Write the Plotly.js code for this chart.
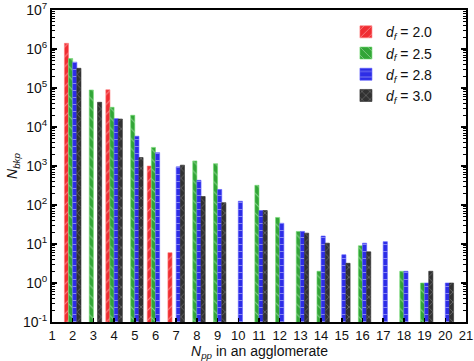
<!DOCTYPE html>
<html>
<head>
<meta charset="utf-8">
<script src="https://cdn.plot.ly/plotly-3.0.1.min.js"></script>
<style>html,body{margin:0;padding:0;background:#fff;}#chart{width:474px;height:361px;}</style>
</head>
<body>
<div id="chart"></div>
<script>
const npp = [2,3,4,5,6,7,8,9,10,11,12,13,14,15,16,17,18,19,20];
const df20 = [1.4e6,null,9.0e4,null,1.0e3,6,null,null,null,null,null,null,null,null,null,null,null,null,null];
const df25 = [5.7e5,8.9e4,3.2e4,2.0e4,3.0e3,null,1.35e3,1.15e3,null,320,48,21,2,null,9,null,2,1,null];
const df28 = [4.6e5,null,1.65e4,5.8e3,2.2e3,950,430,250,125,72,34,21,16,5.3,10.5,11.5,2,1,1];
const df30 = [3.2e5,4.3e4,1.6e4,1.65e3,null,1.05e3,165,115,null,72,null,19,10.5,3.2,6.3,null,null,2,1];
const seriesNames = ['<i>d</i><sub><i>f</i></sub> = 2.0','<i>d</i><sub><i>f</i></sub> = 2.5','<i>d</i><sub><i>f</i></sub> = 2.8','<i>d</i><sub><i>f</i></sub> = 3.0'];
const xTicks = [1,2,3,4,5,6,7,8,9,10,11,12,13,14,15,16,17,18,19,20,21];
const yExps = [-1,0,1,2,3,4,5,6,7];
const yTickVals = yExps.map(e=>Math.pow(10,e));
const yTickText = yExps.map(e=>'10<sup>'+e+'</sup>');
const xTitle = '<i>N</i><sub><i>pp</i></sub> in an agglomerate';

const styles = [
  {color:'rgb(240,45,50)', line:'rgb(255,120,120)', shape:'/'},
  {color:'rgb(50,165,55)', line:'rgb(110,220,110)', shape:'\\'},
  {color:'rgb(45,45,230)', line:'rgb(90,90,255)', shape:'-'},
  {color:'rgb(50,50,50)', line:'rgb(40,40,40)', shape:'x'}
];
const vals = [df20, df25, df28, df30];
const traces = vals.map((v,i)=>({
  type:'bar', x:npp, y:v, name:seriesNames[i],
  marker:{color:styles[i].color, line:{color:styles[i].line, width:0.6},
    pattern:{shape:styles[i].shape, fgcolor:'rgba(255,255,255,0.85)', bgcolor:styles[i].color, fillmode:'overlay', size:7, solidity:0.15}}
}));

const layout = {
  width:474, height:361,
  margin:{l:52, r:8, t:10, b:39},
  paper_bgcolor:'#fff', plot_bgcolor:'#fff',
  font:{family:'Liberation Sans, Arial, sans-serif', color:'#111', size:13},
  barmode:'group', bargap:0.2, bargroupgap:0,
  showlegend:true,
  legend:{x:0.71, y:0.98, xanchor:'left', yanchor:'top', bgcolor:'rgba(0,0,0,0)', font:{size:14}, tracegroupgap:0, itemwidth:30},
  annotations:[{text:xTitle, xref:'paper', yref:'paper', x:0.5, y:0, xanchor:'center', yanchor:'top', yshift:-19, showarrow:false, font:{size:14}}],
  xaxis:{range:[1,21], tickvals:xTicks, ticktext:xTicks.map(String), ticks:'inside', ticklen:4, tickwidth:1.5, tickcolor:'#000',
    showline:true, linecolor:'#000', linewidth:2, mirror:true, showgrid:false, zeroline:false,
    tickfont:{size:13}},
  yaxis:{type:'log', range:[-1,7], tickvals:yTickVals, ticktext:yTickText, ticks:'inside', ticklen:5, tickwidth:1.5, tickcolor:'#000',
    minor:{ticks:'inside', ticklen:3, tickcolor:'#000', tickwidth:1, showgrid:false, dtick:'D1'},
    showline:true, linecolor:'#000', linewidth:2, mirror:'allticks', showgrid:false, zeroline:false,
    tickfont:{size:14},
    title:{text:'<i>N</i><sub><i>bkp</i></sub>', font:{size:14}, standoff:2}}
};
Plotly.newPlot('chart', traces, layout, {displayModeBar:false, staticPlot:true});
</script>
</body>
</html>
